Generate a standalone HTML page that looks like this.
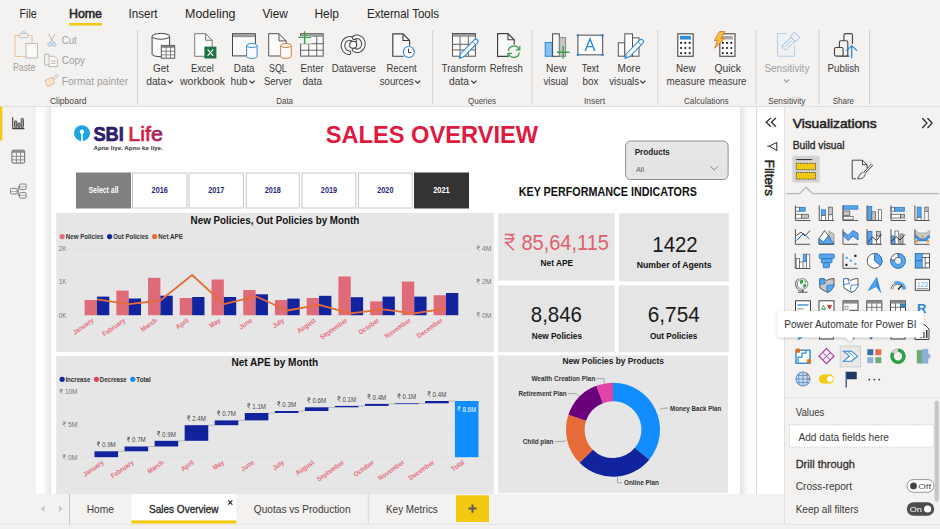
<!DOCTYPE html>
<html><head><meta charset="utf-8"><style>
html,body{margin:0;padding:0;width:940px;height:529px;overflow:hidden;background:#f3f2f1;}
svg{display:block;font-family:"Liberation Sans", sans-serif;}
</style></head><body>
<svg width="940" height="529" viewBox="0 0 940 529">
<rect x="0" y="0" width="940" height="529" fill="#f3f2f1" />
<text x="19.6" y="17.5" font-size="12.5" fill="#252423" textLength="17" lengthAdjust="spacingAndGlyphs" >File</text>
<text x="69" y="17.5" font-size="12.5" fill="#252423" textLength="33" lengthAdjust="spacingAndGlyphs"  stroke="#252423" stroke-width="0.55">Home</text>
<rect x="69" y="23" width="33" height="2.5" fill="#f2c811" />
<text x="128.5" y="17.5" font-size="12.5" fill="#252423" textLength="29" lengthAdjust="spacingAndGlyphs" >Insert</text>
<text x="185.1" y="17.5" font-size="12.5" fill="#252423" textLength="50.4" lengthAdjust="spacingAndGlyphs" >Modeling</text>
<text x="262.4" y="17.5" font-size="12.5" fill="#252423" textLength="25.5" lengthAdjust="spacingAndGlyphs" >View</text>
<text x="314.4" y="17.5" font-size="12.5" fill="#252423" textLength="24.6" lengthAdjust="spacingAndGlyphs" >Help</text>
<text x="367" y="17.5" font-size="12.5" fill="#252423" textLength="72" lengthAdjust="spacingAndGlyphs" >External Tools</text>
<text x="12.9" y="71.1" font-size="10.5" fill="#a19f9d" textLength="22.6" lengthAdjust="spacingAndGlyphs" >Paste</text>
<text x="61.7" y="43.9" font-size="10.5" fill="#a19f9d" textLength="15.1" lengthAdjust="spacingAndGlyphs" >Cut</text>
<text x="61.7" y="64.3" font-size="10.5" fill="#a19f9d" textLength="23.3" lengthAdjust="spacingAndGlyphs" >Copy</text>
<text x="61.7" y="84.7" font-size="10.5" fill="#a19f9d" textLength="66.5" lengthAdjust="spacingAndGlyphs" >Format painter</text>
<text x="49.9" y="103.6" font-size="9" fill="#484644" textLength="36.6" lengthAdjust="spacingAndGlyphs" >Clipboard</text>
<text x="153" y="71.6" font-size="10.5" fill="#3b3a39" textLength="16" lengthAdjust="spacingAndGlyphs" >Get</text>
<text x="146.2" y="84.7" font-size="10.5" fill="#3b3a39" textLength="20" lengthAdjust="spacingAndGlyphs" >data</text>
<text x="191" y="71.6" font-size="10.5" fill="#3b3a39" textLength="22.7" lengthAdjust="spacingAndGlyphs" >Excel</text>
<text x="180" y="84.7" font-size="10.5" fill="#3b3a39" textLength="45" lengthAdjust="spacingAndGlyphs" >workbook</text>
<text x="233.8" y="71.6" font-size="10.5" fill="#3b3a39" textLength="20.8" lengthAdjust="spacingAndGlyphs" >Data</text>
<text x="230.5" y="84.7" font-size="10.5" fill="#3b3a39" textLength="17" lengthAdjust="spacingAndGlyphs" >hub</text>
<text x="269" y="71.6" font-size="10.5" fill="#3b3a39" textLength="17.8" lengthAdjust="spacingAndGlyphs" >SQL</text>
<text x="264" y="84.7" font-size="10.5" fill="#3b3a39" textLength="28" lengthAdjust="spacingAndGlyphs" >Server</text>
<text x="300.6" y="71.6" font-size="10.5" fill="#3b3a39" textLength="23.2" lengthAdjust="spacingAndGlyphs" >Enter</text>
<text x="302.5" y="84.7" font-size="10.5" fill="#3b3a39" textLength="19.5" lengthAdjust="spacingAndGlyphs" >data</text>
<text x="331.8" y="71.6" font-size="10.5" fill="#3b3a39" textLength="44.1" lengthAdjust="spacingAndGlyphs" >Dataverse</text>
<text x="386.4" y="71.6" font-size="10.5" fill="#3b3a39" textLength="30.2" lengthAdjust="spacingAndGlyphs" >Recent</text>
<text x="379.7" y="84.7" font-size="10.5" fill="#3b3a39" textLength="34" lengthAdjust="spacingAndGlyphs" >sources</text>
<text x="276.3" y="103.6" font-size="9" fill="#484644" textLength="16.7" lengthAdjust="spacingAndGlyphs" >Data</text>
<text x="441.5" y="71.6" font-size="10.5" fill="#3b3a39" textLength="44.5" lengthAdjust="spacingAndGlyphs" >Transform</text>
<text x="449" y="84.7" font-size="10.5" fill="#3b3a39" textLength="20" lengthAdjust="spacingAndGlyphs" >data</text>
<text x="489.7" y="71.6" font-size="10.5" fill="#3b3a39" textLength="33.2" lengthAdjust="spacingAndGlyphs" >Refresh</text>
<text x="468" y="103.6" font-size="9" fill="#484644" textLength="28" lengthAdjust="spacingAndGlyphs" >Queries</text>
<text x="545.9" y="71.6" font-size="10.5" fill="#3b3a39" textLength="20.4" lengthAdjust="spacingAndGlyphs" >New</text>
<text x="543.4" y="84.7" font-size="10.5" fill="#3b3a39" textLength="24.9" lengthAdjust="spacingAndGlyphs" >visual</text>
<text x="581.7" y="71.6" font-size="10.5" fill="#3b3a39" textLength="17.2" lengthAdjust="spacingAndGlyphs" >Text</text>
<text x="582.6" y="84.7" font-size="10.5" fill="#3b3a39" textLength="15.9" lengthAdjust="spacingAndGlyphs" >box</text>
<text x="617.6" y="71.6" font-size="10.5" fill="#3b3a39" textLength="23" lengthAdjust="spacingAndGlyphs" >More</text>
<text x="609.2" y="84.7" font-size="10.5" fill="#3b3a39" textLength="30" lengthAdjust="spacingAndGlyphs" >visuals</text>
<text x="584" y="103.6" font-size="9" fill="#484644" textLength="21" lengthAdjust="spacingAndGlyphs" >Insert</text>
<text x="676" y="71.6" font-size="10.5" fill="#3b3a39" textLength="19.7" lengthAdjust="spacingAndGlyphs" >New</text>
<text x="666.6" y="84.7" font-size="10.5" fill="#3b3a39" textLength="38.4" lengthAdjust="spacingAndGlyphs" >measure</text>
<text x="714.5" y="71.6" font-size="10.5" fill="#3b3a39" textLength="26.3" lengthAdjust="spacingAndGlyphs" >Quick</text>
<text x="708.8" y="84.7" font-size="10.5" fill="#3b3a39" textLength="37.7" lengthAdjust="spacingAndGlyphs" >measure</text>
<text x="683.9" y="103.6" font-size="9" fill="#484644" textLength="44.8" lengthAdjust="spacingAndGlyphs" >Calculations</text>
<text x="764.4" y="71.6" font-size="10.5" fill="#a19f9d" textLength="45" lengthAdjust="spacingAndGlyphs" >Sensitivity</text>
<text x="768.2" y="103.6" font-size="9" fill="#484644" textLength="37.3" lengthAdjust="spacingAndGlyphs" >Sensitivity</text>
<text x="827.6" y="71.6" font-size="10.5" fill="#3b3a39" textLength="31.9" lengthAdjust="spacingAndGlyphs" >Publish</text>
<text x="832.7" y="103.6" font-size="9" fill="#484644" textLength="21.3" lengthAdjust="spacingAndGlyphs" >Share</text>
<rect x="137" y="30" width="1" height="74.5" fill="#d2d0ce" />
<rect x="432.3" y="30" width="1" height="74.5" fill="#d2d0ce" />
<rect x="531.5" y="30" width="1" height="74.5" fill="#d2d0ce" />
<rect x="657.4" y="30" width="1" height="74.5" fill="#d2d0ce" />
<rect x="755.5" y="30" width="1" height="74.5" fill="#d2d0ce" />
<rect x="818.4" y="30" width="1" height="74.5" fill="#d2d0ce" />
<rect x="869.1" y="30" width="1" height="74.5" fill="#d2d0ce" />
<path d="M167.5 80.6 l2.6 2.6 l2.6 -2.6" fill="none" stroke="#3b3a39" stroke-width="1.3"/>
<path d="M249.5 80.6 l2.6 2.6 l2.6 -2.6" fill="none" stroke="#3b3a39" stroke-width="1.3"/>
<path d="M415 80.6 l2.6 2.6 l2.6 -2.6" fill="none" stroke="#3b3a39" stroke-width="1.3"/>
<path d="M471.3 80.6 l2.6 2.6 l2.6 -2.6" fill="none" stroke="#3b3a39" stroke-width="1.3"/>
<path d="M640.2 80.6 l2.6 2.6 l2.6 -2.6" fill="none" stroke="#3b3a39" stroke-width="1.3"/>
<path d="M784 79.5 l2.6 2.6 l2.6 -2.6" fill="none" stroke="#a19f9d" stroke-width="1.3"/>
<rect x="0" y="106" width="940" height="1" fill="#e1dfdd" />
<rect x="0" y="107" width="35" height="422" fill="#f3f2f1" />
<rect x="34.5" y="107" width="1" height="387" fill="#e6e6e6" />
<rect x="0" y="106.5" width="2.3" height="34" fill="#f2c811" />
<rect x="35.5" y="107" width="721" height="387" fill="#ffffff" />
<defs><linearGradient id="shl" x1="0" x2="1"><stop offset="0" stop-color="#ffffff"/><stop offset="1" stop-color="#e4e4e4"/></linearGradient><linearGradient id="shr" x1="0" x2="1"><stop offset="0" stop-color="#e4e4e4"/><stop offset="1" stop-color="#fbfbfb"/></linearGradient></defs>
<rect x="43" y="107" width="8.5" height="387" fill="url(#shl)" />
<rect x="740" y="107" width="8" height="387" fill="url(#shr)" />
<rect x="748" y="107" width="8.5" height="387" fill="#fbfbfb" />
<rect x="51.5" y="107" width="688.5" height="387" fill="#ffffff" />
<circle cx="82" cy="133.2" r="8" fill="#1ea3e4"/>
<circle cx="82" cy="131.6" r="2.2" fill="#fff"/>
<rect x="81.2" y="131.6" width="1.6" height="10" fill="#fff" />
<defs><linearGradient id="lifeg" x1="0" x2="1"><stop offset="0" stop-color="#d91b3c"/><stop offset="0.55" stop-color="#d01b45"/><stop offset="1" stop-color="#8e1c63"/></linearGradient></defs>
<text x="93.4" y="140.6" font-size="20" fill="#2b1f6d" font-weight="bold" textLength="30.4" lengthAdjust="spacingAndGlyphs"  stroke="#2b1f6d" stroke-width="0.7">SBI</text>
<text x="128.3" y="140.6" font-size="20" fill="url(#lifeg)" textLength="34.5" lengthAdjust="spacingAndGlyphs"  stroke="url(#lifeg)" stroke-width="0.65">Life</text>
<text x="93.4" y="150.2" font-size="5.6" fill="#333" font-weight="bold" textLength="69.4" lengthAdjust="spacingAndGlyphs" >Apne liye. Apno ke liye.</text>
<text x="325.8" y="143.1" font-size="24.5" fill="#e0193f" font-weight="bold" textLength="212.2" lengthAdjust="spacingAndGlyphs" >SALES OVERVIEW</text>
<rect x="76" y="172.5" width="55" height="36" fill="#808080" />
<text x="103.5" y="193.3" font-size="8.2" fill="#ffffff" font-weight="bold" text-anchor="middle" textLength="30" lengthAdjust="spacingAndGlyphs" >Select all</text>
<rect x="132.5" y="173" width="54.400000000000006" height="35" fill="#ffffff" stroke="#c8c8c8" stroke-width="1"/>
<text x="159.7" y="193.3" font-size="8.2" fill="#1f2b7b" font-weight="bold" text-anchor="middle" textLength="16.2" lengthAdjust="spacingAndGlyphs" >2016</text>
<rect x="189.0" y="173" width="54.5" height="35" fill="#ffffff" stroke="#c8c8c8" stroke-width="1"/>
<text x="216.25" y="193.3" font-size="8.2" fill="#1f2b7b" font-weight="bold" text-anchor="middle" textLength="16.2" lengthAdjust="spacingAndGlyphs" >2017</text>
<rect x="246.3" y="173" width="53.0" height="35" fill="#ffffff" stroke="#c8c8c8" stroke-width="1"/>
<text x="272.8" y="193.3" font-size="8.2" fill="#1f2b7b" font-weight="bold" text-anchor="middle" textLength="16.2" lengthAdjust="spacingAndGlyphs" >2018</text>
<rect x="302.0" y="173" width="53.89999999999998" height="35" fill="#ffffff" stroke="#c8c8c8" stroke-width="1"/>
<text x="328.95" y="193.3" font-size="8.2" fill="#1f2b7b" font-weight="bold" text-anchor="middle" textLength="16.2" lengthAdjust="spacingAndGlyphs" >2019</text>
<rect x="358.5" y="173" width="53.69999999999999" height="35" fill="#ffffff" stroke="#c8c8c8" stroke-width="1"/>
<text x="385.35" y="193.3" font-size="8.2" fill="#1f2b7b" font-weight="bold" text-anchor="middle" textLength="16.2" lengthAdjust="spacingAndGlyphs" >2020</text>
<rect x="414" y="172.5" width="55" height="36" fill="#333333" />
<text x="441.5" y="193.3" font-size="8.2" fill="#ffffff" font-weight="bold" text-anchor="middle" textLength="16.5" lengthAdjust="spacingAndGlyphs" >2021</text>
<rect x="625.6" y="141" width="102.5" height="38.5" fill="#e6e6e6" rx="5" stroke="#8f8f8f" stroke-width="1"/>
<rect x="632.2" y="160.4" width="89.3" height="14" fill="#e4e4e4" stroke="#dedede" stroke-width="0.6"/>
<text x="634.7" y="154.8" font-size="8.6" fill="#252423" font-weight="bold" textLength="35.2" lengthAdjust="spacingAndGlyphs" >Products</text>
<text x="635.9" y="172" font-size="7.5" fill="#605e5c" textLength="8.2" lengthAdjust="spacingAndGlyphs" >All</text>
<path d="M710.5 166.3 l3.7 3.8 l3.7 -3.8" fill="none" stroke="#777" stroke-width="0.9"/>
<text x="518.7" y="195.9" font-size="12.3" fill="#111" font-weight="bold" textLength="178.2" lengthAdjust="spacingAndGlyphs" >KEY PERFORMANCE INDICATORS</text>
<rect x="56.2" y="212.8" width="437.6" height="139.4" fill="#e6e6e6" />
<text x="190.6" y="223.7" font-size="10.3" fill="#111" font-weight="bold" textLength="168.7" lengthAdjust="spacingAndGlyphs" >New Policies, Out Policies by Month</text>
<circle cx="62.1" cy="236.6" r="2.6" fill="#e06b78"/>
<text x="65.8" y="239.0" font-size="7" fill="#333" font-weight="bold" textLength="37.7" lengthAdjust="spacingAndGlyphs" >New Policies</text>
<circle cx="109.6" cy="236.6" r="2.6" fill="#12239e"/>
<text x="113.3" y="239.0" font-size="7" fill="#333" font-weight="bold" textLength="35.10000000000001" lengthAdjust="spacingAndGlyphs" >Out Policies</text>
<circle cx="154.6" cy="236.6" r="2.6" fill="#e66c37"/>
<text x="158.3" y="239.0" font-size="7" fill="#333" font-weight="bold" textLength="24.69999999999999" lengthAdjust="spacingAndGlyphs" >Net APE</text>
<text x="58.8" y="251.1" font-size="7" fill="#777" textLength="7.5" lengthAdjust="spacingAndGlyphs" >2K</text>
<text x="58.8" y="284.1" font-size="7" fill="#777" textLength="7.5" lengthAdjust="spacingAndGlyphs" >1K</text>
<text x="58.8" y="317.5" font-size="7" fill="#777" textLength="7.7" lengthAdjust="spacingAndGlyphs" >0K</text>
<path d="M476.70 246.14 H479.68 M476.70 247.38 H479.68 M477.65 246.14 C479.68 246.14 479.68 248.52 477.65 248.52 H476.70 M477.06 248.52 L479.44 250.90" fill="none" stroke="#777" stroke-width="0.63"/>
<text x="482.0" y="250.9" font-size="7" fill="#777" textLength="9.2" lengthAdjust="spacingAndGlyphs" >4M</text>
<path d="M476.70 279.34 H479.68 M476.70 280.58 H479.68 M477.65 279.34 C479.68 279.34 479.68 281.72 477.65 281.72 H476.70 M477.06 281.72 L479.44 284.10" fill="none" stroke="#777" stroke-width="0.63"/>
<text x="482.0" y="284.1" font-size="7" fill="#777" textLength="9.2" lengthAdjust="spacingAndGlyphs" >2M</text>
<path d="M476.70 312.74 H479.68 M476.70 313.98 H479.68 M477.65 312.74 C479.68 312.74 479.68 315.12 477.65 315.12 H476.70 M477.06 315.12 L479.44 317.50" fill="none" stroke="#777" stroke-width="0.63"/>
<text x="482.0" y="317.5" font-size="7" fill="#777" textLength="9.2" lengthAdjust="spacingAndGlyphs" >0M</text>
<line x1="68" y1="248.6" x2="472" y2="248.6" stroke="#cdcdcd" stroke-width="0.8" stroke-dasharray="1 3"/>
<line x1="68" y1="281.8" x2="472" y2="281.8" stroke="#cdcdcd" stroke-width="0.8" stroke-dasharray="1 3"/>
<line x1="68" y1="315.2" x2="472" y2="315.2" stroke="#cdcdcd" stroke-width="0.8" stroke-dasharray="1 3"/>
<rect x="84.6" y="300" width="12.35" height="15.2" fill="#e06b78" />
<rect x="96.95" y="296.6" width="12.35" height="18.6" fill="#12239e" />
<rect x="116.33" y="290.6" width="12.35" height="24.6" fill="#e06b78" />
<rect x="128.68" y="298.5" width="12.35" height="16.7" fill="#12239e" />
<rect x="148.05" y="277.8" width="12.35" height="37.4" fill="#e06b78" />
<rect x="160.4" y="295.7" width="12.35" height="19.5" fill="#12239e" />
<rect x="179.78" y="298" width="12.35" height="17.2" fill="#e06b78" />
<rect x="192.13" y="297" width="12.35" height="18.2" fill="#12239e" />
<rect x="211.51" y="279.5" width="12.35" height="35.7" fill="#e06b78" />
<rect x="223.86" y="297" width="12.35" height="18.2" fill="#12239e" />
<rect x="243.24" y="290" width="12.35" height="25.2" fill="#e06b78" />
<rect x="255.59" y="294.3" width="12.35" height="20.9" fill="#12239e" />
<rect x="274.96" y="300" width="12.35" height="15.2" fill="#e06b78" />
<rect x="287.31" y="298.6" width="12.35" height="16.6" fill="#12239e" />
<rect x="306.69" y="298" width="12.35" height="17.2" fill="#e06b78" />
<rect x="319.04" y="295.8" width="12.35" height="19.4" fill="#12239e" />
<rect x="338.42" y="276.5" width="12.35" height="38.7" fill="#e06b78" />
<rect x="350.77" y="297.2" width="12.35" height="18.0" fill="#12239e" />
<rect x="370.15" y="301.4" width="12.35" height="13.8" fill="#e06b78" />
<rect x="382.5" y="296.6" width="12.35" height="18.6" fill="#12239e" />
<rect x="401.87" y="281.6" width="12.35" height="33.6" fill="#e06b78" />
<rect x="414.22" y="296.6" width="12.35" height="18.6" fill="#12239e" />
<rect x="433.6" y="295.2" width="12.35" height="20.0" fill="#e06b78" />
<rect x="445.95" y="293" width="12.35" height="22.2" fill="#12239e" />
<polyline points="96.95,299.4 128.68,304.2 160.4,300.5 192.13,275 223.86,304.2 255.59,296.3 287.31,310.5 319.04,304.8 350.77,313.3 382.5,309.4 414.22,313.3 445.95,308.5" fill="none" stroke="#e66c37" stroke-width="1.8" stroke-linejoin="round"/>
<text x="94.15" y="321.5" font-size="6.9" font-weight="bold" fill="#e4707c" text-anchor="end" textLength="23.6" lengthAdjust="spacingAndGlyphs" transform="rotate(-35 94.15 321.5)">January</text>
<text x="125.88" y="321.5" font-size="6.9" font-weight="bold" fill="#e4707c" text-anchor="end" textLength="26.3" lengthAdjust="spacingAndGlyphs" transform="rotate(-35 125.88 321.5)">February</text>
<text x="157.60" y="321.5" font-size="6.9" font-weight="bold" fill="#e4707c" text-anchor="end" textLength="18.1" lengthAdjust="spacingAndGlyphs" transform="rotate(-35 157.60 321.5)">March</text>
<text x="189.33" y="321.5" font-size="6.9" font-weight="bold" fill="#e4707c" text-anchor="end" textLength="14.0" lengthAdjust="spacingAndGlyphs" transform="rotate(-35 189.33 321.5)">April</text>
<text x="221.06" y="321.5" font-size="6.9" font-weight="bold" fill="#e4707c" text-anchor="end" textLength="11.9" lengthAdjust="spacingAndGlyphs" transform="rotate(-35 221.06 321.5)">May</text>
<text x="252.79" y="321.5" font-size="6.9" font-weight="bold" fill="#e4707c" text-anchor="end" textLength="14.3" lengthAdjust="spacingAndGlyphs" transform="rotate(-35 252.79 321.5)">June</text>
<text x="284.51" y="321.5" font-size="6.9" font-weight="bold" fill="#e4707c" text-anchor="end" textLength="12.3" lengthAdjust="spacingAndGlyphs" transform="rotate(-35 284.51 321.5)">July</text>
<text x="316.24" y="321.5" font-size="6.9" font-weight="bold" fill="#e4707c" text-anchor="end" textLength="21.1" lengthAdjust="spacingAndGlyphs" transform="rotate(-35 316.24 321.5)">August</text>
<text x="347.97" y="321.5" font-size="6.9" font-weight="bold" fill="#e4707c" text-anchor="end" textLength="31.7" lengthAdjust="spacingAndGlyphs" transform="rotate(-35 347.97 321.5)">September</text>
<text x="379.70" y="321.5" font-size="6.9" font-weight="bold" fill="#e4707c" text-anchor="end" textLength="23.5" lengthAdjust="spacingAndGlyphs" transform="rotate(-35 379.70 321.5)">October</text>
<text x="411.42" y="321.5" font-size="6.9" font-weight="bold" fill="#e4707c" text-anchor="end" textLength="30.0" lengthAdjust="spacingAndGlyphs" transform="rotate(-35 411.42 321.5)">November</text>
<text x="443.15" y="321.5" font-size="6.9" font-weight="bold" fill="#e4707c" text-anchor="end" textLength="29.7" lengthAdjust="spacingAndGlyphs" transform="rotate(-35 443.15 321.5)">December</text>
<rect x="498" y="213.2" width="116.7" height="67.3" fill="#e5e5e5" />
<rect x="619" y="213.2" width="109.8" height="68.3" fill="#e5e5e5" />
<rect x="498" y="285.3" width="116.7" height="66.9" fill="#e5e5e5" />
<rect x="618.5" y="285.3" width="110.3" height="66.9" fill="#e5e5e5" />
<path d="M504.70 234.60 H514.60 M504.70 238.66 H514.60 M507.87 234.60 C514.60 234.60 514.60 242.40 507.87 242.40 H504.70 M505.89 242.40 L513.81 250.20" fill="none" stroke="#e0606e" stroke-width="1.50"/>
<text x="0" y="0" font-size="18.8" fill="#e0606e" textLength="87.6" lengthAdjust="spacingAndGlyphs" transform="translate(521.4 250.4) scale(1 1.17)">85,64,115</text>
<text x="540.6" y="266.2" font-size="8.8" fill="#111" font-weight="bold" textLength="32.6" lengthAdjust="spacingAndGlyphs" >Net APE</text>
<text x="0" y="0" font-size="18.8" fill="#1a1a1a" textLength="45.4" lengthAdjust="spacingAndGlyphs" transform="translate(652.3 252) scale(1 1.17)">1422</text>
<text x="636.8" y="267.6" font-size="8.8" fill="#111" font-weight="bold" textLength="74.8" lengthAdjust="spacingAndGlyphs" >Number of Agents</text>
<text x="0" y="0" font-size="18.8" fill="#1a1a1a" textLength="51.2" lengthAdjust="spacingAndGlyphs" transform="translate(530.8 322.4) scale(1 1.17)">8,846</text>
<text x="531.7" y="338.9" font-size="8.8" fill="#111" font-weight="bold" textLength="50.3" lengthAdjust="spacingAndGlyphs" >New Policies</text>
<text x="0" y="0" font-size="18.8" fill="#1a1a1a" textLength="51.9" lengthAdjust="spacingAndGlyphs" transform="translate(647.8 322.4) scale(1 1.17)">6,754</text>
<text x="650" y="338.9" font-size="8.8" fill="#111" font-weight="bold" textLength="47.3" lengthAdjust="spacingAndGlyphs" >Out Policies</text>
<rect x="56.2" y="355.9" width="437.6" height="138.1" fill="#e6e6e6" />
<text x="231.5" y="365.9" font-size="10.3" fill="#111" font-weight="bold" textLength="86.7" lengthAdjust="spacingAndGlyphs" >Net APE by Month</text>
<circle cx="62.1" cy="379.3" r="2.6" fill="#12239e"/>
<text x="65.4" y="381.7" font-size="7" fill="#333" font-weight="bold" textLength="25.0" lengthAdjust="spacingAndGlyphs" >Increase</text>
<circle cx="96.5" cy="379.3" r="2.6" fill="#e0435a"/>
<text x="99.8" y="381.7" font-size="7" fill="#333" font-weight="bold" textLength="26.900000000000006" lengthAdjust="spacingAndGlyphs" >Decrease</text>
<circle cx="132.79999999999998" cy="379.3" r="2.6" fill="#118dff"/>
<text x="136.3" y="381.7" font-size="7" fill="#333" font-weight="bold" textLength="14.5" lengthAdjust="spacingAndGlyphs" >Total</text>
<path d="M59.69 389.44 H62.61 M59.69 390.68 H62.61 M60.63 389.44 C62.61 389.44 62.61 391.82 60.63 391.82 H59.69 M60.04 391.82 L62.38 394.20" fill="none" stroke="#777" stroke-width="0.63"/>
<text x="64.88" y="394.2" font-size="7" fill="#777" textLength="12.62" lengthAdjust="spacingAndGlyphs" >10M</text>
<path d="M62.70 422.04 H65.74 M62.70 423.28 H65.74 M63.68 422.04 C65.74 422.04 65.74 424.42 63.68 424.42 H62.70 M63.07 424.42 L65.50 426.80" fill="none" stroke="#777" stroke-width="0.63"/>
<text x="68.11" y="426.8" font-size="7" fill="#777" textLength="9.39" lengthAdjust="spacingAndGlyphs" >5M</text>
<path d="M62.70 454.94 H65.74 M62.70 456.18 H65.74 M63.68 454.94 C65.74 454.94 65.74 457.32 63.68 457.32 H62.70 M63.07 457.32 L65.50 459.70" fill="none" stroke="#777" stroke-width="0.63"/>
<text x="68.11" y="459.7" font-size="7" fill="#777" textLength="9.39" lengthAdjust="spacingAndGlyphs" >0M</text>
<line x1="80" y1="391.7" x2="491" y2="391.7" stroke="#cdcdcd" stroke-width="0.8" stroke-dasharray="1 3"/>
<line x1="80" y1="424.3" x2="491" y2="424.3" stroke="#cdcdcd" stroke-width="0.8" stroke-dasharray="1 3"/>
<line x1="80" y1="457.2" x2="491" y2="457.2" stroke="#cdcdcd" stroke-width="0.8" stroke-dasharray="1 3"/>
<line x1="118.10" y1="451.3" x2="124.55" y2="451.3" stroke="#999" stroke-width="0.6"/>
<rect x="94.5" y="451.3" width="23.6" height="5.9" fill="#12239e" />
<path d="M97.08 442.04 H99.86 M97.08 443.33 H99.86 M97.97 442.04 C99.86 442.04 99.86 444.52 97.97 444.52 H97.08 M97.42 444.52 L99.63 447.00" fill="none" stroke="#4a4a4a" stroke-width="0.66"/>
<text x="102.01" y="447.0" font-size="7.3" fill="#4a4a4a" textLength="13.69" lengthAdjust="spacingAndGlyphs" >0.9M</text>
<line x1="148.15" y1="446.5" x2="154.61" y2="446.5" stroke="#999" stroke-width="0.6"/>
<rect x="124.55" y="446.5" width="23.6" height="4.8" fill="#12239e" />
<path d="M127.13 437.24 H129.91 M127.13 438.53 H129.91 M128.02 437.24 C129.91 437.24 129.91 439.72 128.02 439.72 H127.13 M127.47 439.72 L129.68 442.20" fill="none" stroke="#4a4a4a" stroke-width="0.66"/>
<text x="132.06" y="442.2" font-size="7.3" fill="#4a4a4a" textLength="13.69" lengthAdjust="spacingAndGlyphs" >0.7M</text>
<line x1="178.21" y1="440.8" x2="184.66" y2="440.8" stroke="#999" stroke-width="0.6"/>
<rect x="154.61" y="440.8" width="23.6" height="5.7" fill="#12239e" />
<path d="M157.19 431.54 H159.97 M157.19 432.83 H159.97 M158.08 431.54 C159.97 431.54 159.97 434.02 158.08 434.02 H157.19 M157.53 434.02 L159.74 436.50" fill="none" stroke="#4a4a4a" stroke-width="0.66"/>
<text x="162.12" y="436.5" font-size="7.3" fill="#4a4a4a" textLength="13.69" lengthAdjust="spacingAndGlyphs" >0.9M</text>
<line x1="208.26" y1="425.2" x2="214.72" y2="425.2" stroke="#999" stroke-width="0.6"/>
<rect x="184.66" y="425.2" width="23.6" height="15.6" fill="#12239e" />
<path d="M187.24 415.94 H190.02 M187.24 417.23 H190.02 M188.13 415.94 C190.02 415.94 190.02 418.42 188.13 418.42 H187.24 M187.58 418.42 L189.79 420.90" fill="none" stroke="#4a4a4a" stroke-width="0.66"/>
<text x="192.17" y="420.9" font-size="7.3" fill="#4a4a4a" textLength="13.69" lengthAdjust="spacingAndGlyphs" >2.4M</text>
<line x1="238.32" y1="420.4" x2="244.77" y2="420.4" stroke="#999" stroke-width="0.6"/>
<rect x="214.72" y="420.4" width="23.6" height="4.8" fill="#12239e" />
<path d="M217.30 411.14 H220.08 M217.30 412.43 H220.08 M218.19 411.14 C220.08 411.14 220.08 413.62 218.19 413.62 H217.30 M217.64 413.62 L219.85 416.10" fill="none" stroke="#4a4a4a" stroke-width="0.66"/>
<text x="222.23" y="416.09999999999997" font-size="7.3" fill="#4a4a4a" textLength="13.69" lengthAdjust="spacingAndGlyphs" >0.7M</text>
<line x1="268.37" y1="413" x2="274.83" y2="413" stroke="#999" stroke-width="0.6"/>
<rect x="244.77" y="413" width="23.6" height="7.4" fill="#12239e" />
<path d="M247.35 403.74 H250.13 M247.35 405.03 H250.13 M248.24 403.74 C250.13 403.74 250.13 406.22 248.24 406.22 H247.35 M247.69 406.22 L249.90 408.70" fill="none" stroke="#4a4a4a" stroke-width="0.66"/>
<text x="252.28" y="408.7" font-size="7.3" fill="#4a4a4a" textLength="13.69" lengthAdjust="spacingAndGlyphs" >1.1M</text>
<line x1="298.43" y1="411" x2="304.88" y2="411" stroke="#999" stroke-width="0.6"/>
<rect x="274.83" y="411" width="23.6" height="2" fill="#12239e" />
<path d="M277.41 401.74 H280.19 M277.41 403.03 H280.19 M278.30 401.74 C280.19 401.74 280.19 404.22 278.30 404.22 H277.41 M277.75 404.22 L279.96 406.70" fill="none" stroke="#4a4a4a" stroke-width="0.66"/>
<text x="282.34" y="406.7" font-size="7.3" fill="#4a4a4a" textLength="13.69" lengthAdjust="spacingAndGlyphs" >0.3M</text>
<line x1="328.48" y1="407.3" x2="334.94" y2="407.3" stroke="#999" stroke-width="0.6"/>
<rect x="304.88" y="407.3" width="23.6" height="3.7" fill="#12239e" />
<path d="M307.46 398.04 H310.24 M307.46 399.33 H310.24 M308.35 398.04 C310.24 398.04 310.24 400.52 308.35 400.52 H307.46 M307.80 400.52 L310.01 403.00" fill="none" stroke="#4a4a4a" stroke-width="0.66"/>
<text x="312.39" y="403.0" font-size="7.3" fill="#4a4a4a" textLength="13.69" lengthAdjust="spacingAndGlyphs" >0.6M</text>
<line x1="358.54" y1="405.9" x2="364.99" y2="405.9" stroke="#999" stroke-width="0.6"/>
<rect x="334.94" y="405.9" width="23.6" height="1.4" fill="#12239e" />
<path d="M337.52 396.64 H340.30 M337.52 397.93 H340.30 M338.41 396.64 C340.30 396.64 340.30 399.12 338.41 399.12 H337.52 M337.86 399.12 L340.07 401.60" fill="none" stroke="#4a4a4a" stroke-width="0.66"/>
<text x="342.45" y="401.59999999999997" font-size="7.3" fill="#4a4a4a" textLength="13.69" lengthAdjust="spacingAndGlyphs" >0.1M</text>
<line x1="388.59" y1="403.9" x2="395.05" y2="403.9" stroke="#999" stroke-width="0.6"/>
<rect x="364.99" y="403.9" width="23.6" height="2.0" fill="#12239e" />
<path d="M367.57 394.64 H370.35 M367.57 395.93 H370.35 M368.46 394.64 C370.35 394.64 370.35 397.12 368.46 397.12 H367.57 M367.91 397.12 L370.12 399.60" fill="none" stroke="#4a4a4a" stroke-width="0.66"/>
<text x="372.5" y="399.59999999999997" font-size="7.3" fill="#4a4a4a" textLength="13.69" lengthAdjust="spacingAndGlyphs" >0.4M</text>
<line x1="418.65" y1="403.3" x2="425.10" y2="403.3" stroke="#999" stroke-width="0.6"/>
<rect x="395.05" y="403.3" width="23.6" height="0.8" fill="#12239e" />
<path d="M397.63 394.04 H400.41 M397.63 395.33 H400.41 M398.52 394.04 C400.41 394.04 400.41 396.52 398.52 396.52 H397.63 M397.97 396.52 L400.18 399.00" fill="none" stroke="#4a4a4a" stroke-width="0.66"/>
<text x="402.56" y="399.0" font-size="7.3" fill="#4a4a4a" textLength="13.69" lengthAdjust="spacingAndGlyphs" >0.1M</text>
<rect x="425.1" y="401" width="23.6" height="2.3" fill="#12239e" />
<path d="M427.68 391.74 H430.46 M427.68 393.03 H430.46 M428.57 391.74 C430.46 391.74 430.46 394.22 428.57 394.22 H427.68 M428.02 394.22 L430.23 396.70" fill="none" stroke="#4a4a4a" stroke-width="0.66"/>
<text x="432.61" y="396.7" font-size="7.3" fill="#4a4a4a" textLength="13.69" lengthAdjust="spacingAndGlyphs" >0.4M</text>
<line x1="448.70" y1="401" x2="454.9" y2="401" stroke="#999" stroke-width="0.6"/>
<rect x="454.9" y="401" width="23.6" height="56.2" fill="#118dff" />
<path d="M457.63 406.74 H460.36 M457.63 407.98 H460.36 M458.50 406.74 C460.36 406.74 460.36 409.12 458.50 409.12 H457.63 M457.96 409.12 L460.14 411.50" fill="none" stroke="#fff" stroke-width="0.63"/>
<text x="462.48" y="411.5" font-size="7" fill="#fff" textLength="13.47" lengthAdjust="spacingAndGlyphs" >8.6M</text>
<text x="104.30" y="463.5" font-size="6.9" font-weight="bold" fill="#e4707c" text-anchor="end" textLength="23.6" lengthAdjust="spacingAndGlyphs" transform="rotate(-35 104.30 463.5)">January</text>
<text x="134.35" y="463.5" font-size="6.9" font-weight="bold" fill="#e4707c" text-anchor="end" textLength="26.3" lengthAdjust="spacingAndGlyphs" transform="rotate(-35 134.35 463.5)">February</text>
<text x="164.41" y="463.5" font-size="6.9" font-weight="bold" fill="#e4707c" text-anchor="end" textLength="18.1" lengthAdjust="spacingAndGlyphs" transform="rotate(-35 164.41 463.5)">March</text>
<text x="194.46" y="463.5" font-size="6.9" font-weight="bold" fill="#e4707c" text-anchor="end" textLength="14.0" lengthAdjust="spacingAndGlyphs" transform="rotate(-35 194.46 463.5)">April</text>
<text x="224.52" y="463.5" font-size="6.9" font-weight="bold" fill="#e4707c" text-anchor="end" textLength="11.9" lengthAdjust="spacingAndGlyphs" transform="rotate(-35 224.52 463.5)">May</text>
<text x="254.57" y="463.5" font-size="6.9" font-weight="bold" fill="#e4707c" text-anchor="end" textLength="14.3" lengthAdjust="spacingAndGlyphs" transform="rotate(-35 254.57 463.5)">June</text>
<text x="284.63" y="463.5" font-size="6.9" font-weight="bold" fill="#e4707c" text-anchor="end" textLength="12.3" lengthAdjust="spacingAndGlyphs" transform="rotate(-35 284.63 463.5)">July</text>
<text x="314.68" y="463.5" font-size="6.9" font-weight="bold" fill="#e4707c" text-anchor="end" textLength="21.1" lengthAdjust="spacingAndGlyphs" transform="rotate(-35 314.68 463.5)">August</text>
<text x="344.74" y="463.5" font-size="6.9" font-weight="bold" fill="#e4707c" text-anchor="end" textLength="31.7" lengthAdjust="spacingAndGlyphs" transform="rotate(-35 344.74 463.5)">September</text>
<text x="374.79" y="463.5" font-size="6.9" font-weight="bold" fill="#e4707c" text-anchor="end" textLength="23.5" lengthAdjust="spacingAndGlyphs" transform="rotate(-35 374.79 463.5)">October</text>
<text x="404.85" y="463.5" font-size="6.9" font-weight="bold" fill="#e4707c" text-anchor="end" textLength="30.0" lengthAdjust="spacingAndGlyphs" transform="rotate(-35 404.85 463.5)">November</text>
<text x="434.90" y="463.5" font-size="6.9" font-weight="bold" fill="#e4707c" text-anchor="end" textLength="29.7" lengthAdjust="spacingAndGlyphs" transform="rotate(-35 434.90 463.5)">December</text>
<text x="464.95" y="463.5" font-size="6.9" font-weight="bold" fill="#e4707c" text-anchor="end" textLength="14.2" lengthAdjust="spacingAndGlyphs" transform="rotate(-35 464.95 463.5)">Total</text>
<rect x="498" y="355.3" width="230.1" height="137.7" fill="#e6e6e6" />
<text x="562.4" y="364.3" font-size="9.3" fill="#222" font-weight="bold" textLength="101.4" lengthAdjust="spacingAndGlyphs" >New Policies by Products</text>
<path d="M613.00 382.70 A47 47 0 0 1 649.21 459.66 L634.88 447.80 A28.4 28.4 0 0 0 613.00 401.30Z" fill="#118dff"/>
<path d="M649.21 459.66 A47 47 0 0 1 579.59 462.76 L592.81 449.68 A28.4 28.4 0 0 0 634.88 447.80Z" fill="#12239e"/>
<path d="M579.59 462.76 A47 47 0 0 1 568.40 414.86 L586.05 420.74 A28.4 28.4 0 0 0 592.81 449.68Z" fill="#e66c37"/>
<path d="M568.40 414.86 A47 47 0 0 1 596.39 385.73 L602.96 403.13 A28.4 28.4 0 0 0 586.05 420.74Z" fill="#6b007b"/>
<path d="M596.39 385.73 A47 47 0 0 1 613.00 382.70 L613.00 401.30 A28.4 28.4 0 0 0 602.96 403.13Z" fill="#e044a7"/>
<path d="M596.5 378.6 H604 V383" fill="none" stroke="#888" stroke-width="0.7"/>
<path d="M568 393.6 H576 L579.5 396.5" fill="none" stroke="#888" stroke-width="0.7"/>
<path d="M660 409.5 L663 408.2 H668" fill="none" stroke="#888" stroke-width="0.7"/>
<path d="M555 441.6 H562 L566 440.5" fill="none" stroke="#888" stroke-width="0.7"/>
<path d="M617.5 477.5 V482.7 H622" fill="none" stroke="#888" stroke-width="0.7"/>
<text x="531.4" y="381" font-size="7" fill="#333" font-weight="bold" textLength="63.9" lengthAdjust="spacingAndGlyphs" >Wealth Creation Plan</text>
<text x="518.5" y="396" font-size="7" fill="#333" font-weight="bold" textLength="48" lengthAdjust="spacingAndGlyphs" >Retirement Plan</text>
<text x="670" y="410.6" font-size="7" fill="#333" font-weight="bold" textLength="51.3" lengthAdjust="spacingAndGlyphs" >Money Back Plan</text>
<text x="522.7" y="444" font-size="7" fill="#333" font-weight="bold" textLength="30.6" lengthAdjust="spacingAndGlyphs" >Child plan</text>
<text x="624" y="485.1" font-size="7" fill="#333" font-weight="bold" textLength="35" lengthAdjust="spacingAndGlyphs" >Online Plan</text>
<rect x="35" y="494" width="750" height="30" fill="#f3f2f1" />
<rect x="0" y="524" width="940" height="5" fill="#f2f1f0" />
<rect x="0" y="523.8" width="940" height="0.9" fill="#e3e2e1" />
<path d="M44.5 505.5 L40.8 508.8 L44.5 512.1Z" fill="#c8c6c4"/>
<path d="M59 505.5 L62.7 508.8 L59 512.1Z" fill="#c8c6c4"/>
<rect x="69" y="494" width="1" height="30" fill="#c8c6c4" />
<text x="86.7" y="512.9" font-size="10.2" fill="#3b3a39" textLength="27.2" lengthAdjust="spacingAndGlyphs" >Home</text>
<rect x="131.3" y="494" width="105" height="30" fill="#ffffff" />
<rect x="131.3" y="520.4" width="105" height="3.2" fill="#f2c811" />
<text x="149" y="513" font-size="10.3" fill="#252423" textLength="69.6" lengthAdjust="spacingAndGlyphs"  stroke="#252423" stroke-width="0.3">Sales Overview</text>
<path d="M228.2 500.3 L232.4 504.6 M232.4 500.3 L228.2 504.6" stroke="#252423" stroke-width="1.15"/>
<text x="253.8" y="512.9" font-size="10.2" fill="#3b3a39" textLength="96.8" lengthAdjust="spacingAndGlyphs" >Quotas vs Production</text>
<rect x="367.8" y="494" width="0.8" height="30" fill="#d2d0ce" />
<text x="386" y="512.9" font-size="10.2" fill="#3b3a39" textLength="51.8" lengthAdjust="spacingAndGlyphs" >Key Metrics</text>
<rect x="456" y="495.3" width="33" height="26.7" fill="#f2c811" />
<path d="M472.5 504.5 V512.7 M468.4 508.6 H476.6" stroke="#5a5a5a" stroke-width="2"/>
<rect x="756.2" y="107" width="1" height="387" fill="#d4d4d4" />
<rect x="757.2" y="107" width="27" height="387" fill="#ffffff" />
<rect x="784" y="107" width="1" height="417" fill="#e1dfdd" />
<path d="M770.8 117.9 L766.2 122.2 L770.8 126.5 M776 117.9 L771.4 122.2 L776 126.5" fill="none" stroke="#252423" stroke-width="1.25"/>
<path d="M776.8 142.3 L769.5 146.2 L776.8 150.6 Z M769.5 146.2 H767.3" fill="none" stroke="#252423" stroke-width="1"/>
<text x="0" y="0" font-size="13" fill="#252423" stroke="#252423" stroke-width="0.5" transform="translate(765.3 159.8) rotate(90)" textLength="36" lengthAdjust="spacingAndGlyphs">Filters</text>
<rect x="785" y="107" width="155" height="417" fill="#f3f2f1" />
<text x="792.7" y="128" font-size="13.2" fill="#252423" textLength="84" lengthAdjust="spacingAndGlyphs"  stroke="#252423" stroke-width="0.55">Visualizations</text>
<path d="M922.3 118.2 L926.9 123.1 L922.3 128 M927.5 118.2 L932.1 123.1 L927.5 128" fill="none" stroke="#252423" stroke-width="1.25"/>
<text x="792.7" y="149" font-size="10" fill="#252423" textLength="51.8" lengthAdjust="spacingAndGlyphs"  stroke="#252423" stroke-width="0.3">Build visual</text>
<rect x="792.4" y="155.8" width="27.3" height="26.8" fill="#d6d4d2" rx="1.5"/>
<rect x="796.2" y="159.1" width="16" height="1" fill="#2a2a2a" />
<rect x="796.3" y="163.3" width="19.2" height="6.4" fill="#f2c811" stroke="#2a2a2a" stroke-width="0.8" stroke-dasharray="1 0.8"/>
<rect x="796.3" y="172.5" width="19.2" height="6.6" fill="#f2c811" stroke="#2a2a2a" stroke-width="0.8" stroke-dasharray="1 0.8"/>
<path d="M856 178.8 H852.2 V160.2 H862.5 L867 164.7 V168 M862.5 160.2 V164.7 H867" fill="none" stroke="#333" stroke-width="0.9"/>
<path d="M871.8 163.5 L863.6 172.5 M873 165 L864.8 173.7 M862.6 172.3 C859.5 173.3 859.2 176.8 857.5 178.8 C861 179.3 864.7 177.5 865.3 174.2" fill="none" stroke="#333" stroke-width="0.9"/>
<path d="M786 193.7 H799.4 L806 187.4 L812.8 193.7 H939" fill="none" stroke="#b9b7b5" stroke-width="1.3"/>
<rect x="785" y="397.5" width="155" height="1" fill="#e1dfdd" />
<text x="795.7" y="416" font-size="10.5" fill="#3b3a39" textLength="28.7" lengthAdjust="spacingAndGlyphs" >Values</text>
<rect x="789.4" y="424.8" width="144.3" height="22.2" fill="#ffffff" stroke="#b3b0ad" stroke-width="0.7" stroke-dasharray="1 1.5"/>
<text x="798.4" y="440.5" font-size="10.5" fill="#3b3a39" textLength="90.6" lengthAdjust="spacingAndGlyphs" >Add data fields here</text>
<text x="795.7" y="467.6" font-size="10.5" fill="#323130" textLength="59.2" lengthAdjust="spacingAndGlyphs"  stroke="#323130" stroke-width="0.3">Drill through</text>
<text x="795.7" y="489.6" font-size="10.5" fill="#3b3a39" textLength="56.3" lengthAdjust="spacingAndGlyphs" >Cross-report</text>
<text x="795.7" y="512.5" font-size="10.5" fill="#3b3a39" textLength="62.8" lengthAdjust="spacingAndGlyphs" >Keep all filters</text>
<rect x="907" y="479.6" width="27" height="12.6" fill="#ffffff" rx="6.3" stroke="#7a7a7a" stroke-width="0.8"/>
<circle cx="913.5" cy="485.9" r="3.4" fill="#444"/>
<text x="918.3" y="489" font-size="8" fill="#555" textLength="12.8" lengthAdjust="spacingAndGlyphs" >Off</text>
<rect x="906.8" y="502.3" width="27.4" height="13.4" fill="#4d4d4d" rx="6.7"/>
<circle cx="927.6" cy="509" r="3.6" fill="#fff"/>
<text x="909.8" y="512.2" font-size="8" fill="#fff" textLength="12" lengthAdjust="spacingAndGlyphs" >On</text>
<rect x="934.6" y="400.5" width="4.2" height="101.2" fill="#c8c6c4" rx="2.1"/>
<path d="M15 35.5 H19.5 M28 35.5 H32 V44 M15 35.5 V56.5 H26" fill="none" stroke="#f2c89a" stroke-width="1.2" />
<rect x="19.5" y="33.6" width="8.5" height="4" fill="#f3f2f1" rx="1" stroke="#c2c0be" stroke-width="1"/>
<path d="M21.8 33.6 A2 2 0 0 1 25.8 33.6" fill="none" stroke="#c2c0be" stroke-width="1"/>
<rect x="26" y="43.6" width="11.5" height="14.3" fill="#faf9f8" stroke="#bebbb8" stroke-width="1"/>
<path d="M48.5 34 L53.5 43 M55 34 L50 43" fill="none" stroke="#b3b0ad" stroke-width="0.9" />
<circle cx="49.5" cy="44.5" r="1.7" fill="none" stroke="#8fb6e0" stroke-width="0.9"/><circle cx="54.2" cy="44.5" r="1.7" fill="none" stroke="#8fb6e0" stroke-width="0.9"/>
<path d="M49 56 V54.2 H44.6 V65 H49" fill="none" stroke="#b3b0ad" stroke-width="0.9" />
<path d="M49 56.3 H54.3 L57.4 59.4 V66.6 H49 Z M51 61 H55.5 M51 63.3 H55.5" fill="#faf9f8" stroke="#b3b0ad" stroke-width="0.9" />
<path d="M45 80.5 L52 77 L54.5 83.5 L47.5 86.5 Z" fill="#f8e2cd" stroke="#eab58a" stroke-width="0.9" />
<path d="M52.5 78.5 L56.5 74.5 L58 76 L54 80" fill="none" stroke="#b3b0ad" stroke-width="0.9" />
<path d="M152.1 36.3 V54.2 C152.1 57.5 169.6 57.5 169.6 54.2 V36.3" fill="#fbfbfb" stroke="#444" stroke-width="1" />
<ellipse cx="160.85" cy="36.3" rx="8.75" ry="2.9" fill="#fbfbfb" stroke="#444" stroke-width="1"/>
<rect x="161.3" y="45.4" width="13.4" height="12.8" fill="#fafafa" stroke="#555" stroke-width="1"/>
<rect x="161.3" y="45.4" width="13.4" height="2.3" fill="#777" />
<rect x="161.5" y="50.8" width="13" height="0.9" fill="#777" />
<rect x="161.5" y="54.4" width="13" height="0.9" fill="#777" />
<rect x="165.7" y="47" width="0.9" height="11" fill="#777" />
<rect x="170.1" y="47" width="0.9" height="11" fill="#777" />
<path d="M194.7 33.7 H205.6 L212.2 40.3 V56.3 H194.7 Z M205.6 33.7 V40.3 H212.2" fill="#fbfbfb" stroke="#7a7a7a" stroke-width="1" />
<rect x="204.4" y="46.6" width="12" height="11.9" fill="#1e7145" />
<path d="M207.6 49.4 L213.2 55.8 M213.2 49.4 L207.6 55.8" fill="none" stroke="#fff" stroke-width="1.1" />
<rect x="232.5" y="33.7" width="22.9" height="22.2" fill="#fbfbfb" stroke="#444" stroke-width="1"/>
<rect x="233" y="34.2" width="22" height="3" fill="#9a9a9a" />
<path d="M246.6 45.5 V56.4 C246.6 59 257.1 59 257.1 56.4 V45.5" fill="#fbfbfb" stroke="#2f8ad8" stroke-width="1" />
<ellipse cx="251.85" cy="45.5" rx="5.25" ry="2" fill="#fbfbfb" stroke="#2f8ad8" stroke-width="1"/>
<path d="M268.7 33.7 H279 L286.2 40.9 V56 H268.7 Z M279 33.7 V40.9 H286.2" fill="#fbfbfb" stroke="#555" stroke-width="1" />
<path d="M280.6 45.5 V56.4 C280.6 59 291.3 59 291.3 56.4 V45.5" fill="#fbfbfb" stroke="#e07b39" stroke-width="1" />
<ellipse cx="285.95" cy="45.5" rx="5.35" ry="2" fill="#fbfbfb" stroke="#e07b39" stroke-width="1"/>
<rect x="300.6" y="33.7" width="22.6" height="22.4" fill="#fbfbfb" stroke="#555" stroke-width="1"/>
<rect x="301" y="34.1" width="22" height="2.8" fill="#9a9a9a" />
<rect x="300.6" y="43.3" width="22.6" height="0.9" fill="#555" />
<rect x="300.6" y="49.7" width="22.6" height="0.9" fill="#555" />
<rect x="308.3" y="36.5" width="0.9" height="19.6" fill="#555" />
<rect x="316.3" y="36.5" width="0.9" height="19.6" fill="#555" />
<rect x="298" y="36.2" width="13.5" height="7.5" fill="#f3f2f1" />
<path d="M304.6 31.3 V44 M298.4 37.4 H311.2" fill="none" stroke="#3a9d48" stroke-width="1.4" />
<path d="M349.02 52.77 A6.6 7.2 0 1 1 354.66 40.97" fill="none" stroke="#444" stroke-width="4.6" stroke-linecap="round"/>
<path d="M349.02 52.77 A6.6 7.2 0 1 1 354.66 40.97" fill="none" stroke="#fdfdfd" stroke-width="2.6" stroke-linecap="round"/>
<path d="M354.10 37.74 A6.2 7.0 0 1 1 354.10 49.86" fill="none" stroke="#444" stroke-width="4.6" stroke-linecap="round"/>
<path d="M354.10 37.74 A6.2 7.0 0 1 1 354.10 49.86" fill="none" stroke="#fdfdfd" stroke-width="2.6" stroke-linecap="round"/>
<circle cx="353.2" cy="44.8" r="3.5" fill="#fdfdfd" stroke="#444" stroke-width="1.1"/>
<path d="M392.8 33.9 H403 L409.6 40.5 V56.2 H392.8 Z" fill="#f9f9f9" stroke="#3d3d3d" stroke-width="1.15" />
<path d="M403 33.9 V40.5 H409.6" fill="none" stroke="#3d3d3d" stroke-width="1.1" />
<circle cx="408.8" cy="52" r="6.6" fill="#f3f2f1"/>
<circle cx="408.8" cy="52" r="5.5" fill="#ffffff" stroke="#2f8ad8" stroke-width="1.15"/>
<path d="M408.5 48.8 V52.5 H411.3" fill="none" stroke="#333" stroke-width="1" />
<rect x="452.5" y="33.5" width="22.9" height="22.7" fill="#fbfbfb" stroke="#555" stroke-width="1"/>
<rect x="453" y="34" width="22" height="2.8" fill="#9a9a9a" />
<rect x="452.5" y="43.8" width="22.9" height="0.9" fill="#555" />
<rect x="452.5" y="49.5" width="22.9" height="0.9" fill="#555" />
<rect x="459.6" y="36.5" width="0.9" height="19.6" fill="#555" />
<rect x="467.8" y="36.5" width="0.9" height="19.6" fill="#555" />
<path d="M459.40 58.10 L463.77 56.79 L477.37 42.94 A2.2 2.2 0 0 0 474.23 39.86 L460.63 53.70 Z" fill="#ffffff" stroke="#2f8ad8" stroke-width="1.1" />
<path d="M459.40 58.10 L461.30 57.45 L460.02 56.19 Z" fill="#2f8ad8" stroke="#2f8ad8" stroke-width="0.6" />
<path d="M475.62 44.73 L472.48 41.64" fill="none" stroke="#2f8ad8" stroke-width="0.9" />
<path d="M497.6 33.6 H508 L514.2 39.8 V56.3 H497.6 Z" fill="#f9f9f9" stroke="#3d3d3d" stroke-width="1.15" />
<path d="M508 33.6 V39.8 H514.2" fill="none" stroke="#3d3d3d" stroke-width="1.1" />
<circle cx="513.9" cy="51.6" r="7.2" fill="#f3f2f1"/>
<path d="M508.4 50.9 A5.6 5.6 0 0 1 519.1 49.4" fill="none" stroke="#3a9d48" stroke-width="1.25" />
<path d="M519.3 52.6 A5.6 5.6 0 0 1 508.6 54" fill="none" stroke="#3a9d48" stroke-width="1.25" />
<path d="M519.8 45.9 V49.9 H515.9" fill="none" stroke="#3a9d48" stroke-width="1.25" />
<path d="M508 57.3 V53.3 H511.9" fill="none" stroke="#3a9d48" stroke-width="1.25" />
<rect x="545.2" y="42.5" width="7" height="13.8" fill="#8bbfee" stroke="#2f8ad8" stroke-width="1"/>
<rect x="552.6" y="33.8" width="6.7" height="22.5" fill="#fbfbfb" stroke="#444" stroke-width="1"/>
<rect x="559.6" y="37.6" width="6" height="18.7" fill="#c6c6c6" stroke="#888" stroke-width="1"/>
<rect x="557" y="46" width="12.5" height="12.5" fill="#f3f2f1" opacity="0"/>
<path d="M563.2 46 V58.6 M557 52.3 H569.5" fill="none" stroke="#3a9d48" stroke-width="1.4" />
<rect x="577.9" y="35.2" width="24.7" height="19.6" fill="#fbfbfb" stroke="#666" stroke-width="1.2"/>
<circle cx="577.9" cy="35.2" r="1.3" fill="#2f8ad8"/>
<circle cx="602.6" cy="35.2" r="1.3" fill="#2f8ad8"/>
<circle cx="577.9" cy="54.8" r="1.3" fill="#2f8ad8"/>
<circle cx="602.6" cy="54.8" r="1.3" fill="#2f8ad8"/>
<path d="M585.2 51 L590 39 L594.8 51 M586.9 46.6 H593.1" fill="none" stroke="#2f8ad8" stroke-width="1.4" />
<rect x="618.3" y="42.8" width="6.5" height="13.4" fill="#fbfbfb" stroke="#555" stroke-width="1"/>
<rect x="624.8" y="33.8" width="7.7" height="22.4" fill="#fbfbfb" stroke="#555" stroke-width="1"/>
<rect x="632.5" y="37.9" width="6.5" height="18.3" fill="#fbfbfb" stroke="#555" stroke-width="1"/>
<path d="M625.20 58.10 L629.57 56.77 L642.87 43.14 A2.2 2.2 0 0 0 639.73 40.06 L626.42 53.70 Z" fill="#ffffff" stroke="#2f8ad8" stroke-width="1.1" />
<path d="M625.20 58.10 L627.10 57.44 L625.81 56.18 Z" fill="#2f8ad8" stroke="#2f8ad8" stroke-width="0.6" />
<path d="M641.13 44.93 L637.98 41.85" fill="none" stroke="#2f8ad8" stroke-width="0.9" />
<rect x="677.8" y="33.8" width="15.4" height="22.5" fill="#ffffff" stroke="#555" stroke-width="1.2"/>
<rect x="680" y="35.8" width="10.9" height="3.7" fill="#2f8ad8" />
<circle cx="681.1" cy="42.9" r="1.1" fill="#222"/>
<circle cx="681.1" cy="48" r="1.1" fill="#222"/>
<circle cx="681.1" cy="53.1" r="1.1" fill="#222"/>
<circle cx="685.3" cy="42.9" r="1.1" fill="#222"/>
<circle cx="685.3" cy="48" r="1.1" fill="#222"/>
<circle cx="685.3" cy="53.1" r="1.1" fill="#222"/>
<circle cx="689.7" cy="42.9" r="1.1" fill="#222"/>
<circle cx="689.7" cy="48" r="1.1" fill="#222"/>
<circle cx="689.7" cy="53.1" r="1.1" fill="#222"/>
<rect x="719.8" y="33.8" width="15.2" height="22.5" fill="#ffffff" stroke="#555" stroke-width="1.2"/>
<rect x="722" y="35.8" width="10.9" height="3.7" fill="#a8a8a8" />
<circle cx="722.8" cy="42.9" r="1.1" fill="#222"/>
<circle cx="722.8" cy="48" r="1.1" fill="#222"/>
<circle cx="722.8" cy="53.1" r="1.1" fill="#222"/>
<circle cx="727" cy="42.9" r="1.1" fill="#222"/>
<circle cx="727" cy="48" r="1.1" fill="#222"/>
<circle cx="727" cy="53.1" r="1.1" fill="#222"/>
<circle cx="731.3" cy="42.9" r="1.1" fill="#222"/>
<circle cx="731.3" cy="48" r="1.1" fill="#222"/>
<circle cx="731.3" cy="53.1" r="1.1" fill="#222"/>
<path d="M719.5 31.6 H724.8 L720.8 38.5 H724.5 L714.6 48.2 L717.6 40.6 H714.4 Z" fill="#f8c53a" stroke="#e8702a" stroke-width="0.9" />
<path d="M787 33.6 H777.6 V56.2 H794.6 V45" fill="none" stroke="#a9cdee" stroke-width="1" />
<g transform="rotate(-45 790 42)"><rect x="781" y="39.2" width="13" height="5.6" fill="none" stroke="#a9cdee" stroke-width="1"/><rect x="794" y="38.2" width="6" height="7.6" fill="none" stroke="#a9cdee" stroke-width="1"/><line x1="783" y1="42" x2="792" y2="42" stroke="#a9cdee" stroke-width="1"/></g>
<rect x="843.9" y="33.6" width="8.6" height="22.5" fill="#f3f2f1" rx="1.5" stroke="#444" stroke-width="1.1"/>
<rect x="839.4" y="40.7" width="8.4" height="15.4" fill="#f3f2f1" rx="1.5" stroke="#444" stroke-width="1.1"/>
<rect x="834.5" y="47.5" width="8.6" height="8.6" fill="#f3f2f1" rx="1.5" stroke="#444" stroke-width="1.1"/>
<rect x="849.5" y="44" width="4.6" height="14.5" fill="#f3f2f1" />
<path d="M851.7 58.3 V45.8 M846.3 50.9 L851.7 45.6 L857.1 50.9" fill="none" stroke="#2f8ad8" stroke-width="1.3" />
<path d="M12.7 117.3 V128.6 H24.4" fill="none" stroke="#3d3d3d" stroke-width="1.1" />
<rect x="14.6" y="120.8" width="2.2" height="7" fill="#a8a8a8" rx="1" stroke="#3d3d3d" stroke-width="0.9"/>
<rect x="17.9" y="123" width="2.2" height="4.8" fill="#a8a8a8" rx="1" stroke="#3d3d3d" stroke-width="0.9"/>
<rect x="21.2" y="118.4" width="2.2" height="9.4" fill="#a8a8a8" rx="1" stroke="#3d3d3d" stroke-width="0.9"/>
<rect x="11.9" y="150.2" width="12.8" height="12.9" fill="#f3f2f1" rx="1.3" stroke="#666" stroke-width="1"/>
<rect x="12.3" y="150.6" width="12" height="2.2" fill="#888" />
<rect x="12" y="155.9" width="12.6" height="0.8" fill="#777" />
<rect x="12" y="159.5" width="12.6" height="0.8" fill="#777" />
<rect x="15.9" y="152.5" width="0.8" height="10.5" fill="#777" />
<rect x="20.1" y="152.5" width="0.8" height="10.5" fill="#777" />
<rect x="10.5" y="188.4" width="6.5" height="5.6" fill="#f3f2f1" rx="1" stroke="#777" stroke-width="0.9"/>
<rect x="19.6" y="184" width="6.5" height="5.6" fill="#f3f2f1" rx="1" stroke="#777" stroke-width="0.9"/>
<rect x="19.6" y="192.6" width="6.5" height="5.6" fill="#f3f2f1" rx="1" stroke="#777" stroke-width="0.9"/>
<path d="M17 191.2 H18.3 V186.8 H19.6 M18.3 191.2 V195.4 H19.6" fill="none" stroke="#777" stroke-width="0.9" />
<rect x="10.8" y="191" width="6" height="0.7" fill="#999" />
<rect x="19.9" y="186.6" width="6" height="0.7" fill="#999" />
<rect x="19.9" y="195.2" width="6" height="0.7" fill="#999" />
<rect x="795.4" y="207.3" width="4.1" height="3.9" fill="#fff" stroke="#555" stroke-width="0.7"/>
<rect x="799.5" y="207.3" width="5.7" height="3.9" fill="#5ba6ea" stroke="#1f6fc5" stroke-width="0.7"/>
<rect x="795.4" y="214.3" width="6.1" height="3.9" fill="#fff" stroke="#555" stroke-width="0.7"/>
<rect x="801.5" y="214.3" width="7.1" height="3.9" fill="#c4c4c4" stroke="#555" stroke-width="0.7"/>
<path d="M795.4 205.4 V220.5 H810.3" fill="none" stroke="#555" stroke-width="1" />
<rect x="821.3" y="209.8" width="4.3" height="5.8" fill="#5ba6ea" stroke="#1f6fc5" stroke-width="0.7"/>
<rect x="821.3" y="215.6" width="4.3" height="4.9" fill="#fff" stroke="#555" stroke-width="0.7"/>
<rect x="828.6" y="207.1" width="3.8" height="7.7" fill="#c4c4c4" stroke="#555" stroke-width="0.7"/>
<rect x="828.6" y="214.8" width="3.8" height="5.7" fill="#fff" stroke="#555" stroke-width="0.7"/>
<path d="M819.2 205.4 V220.5 H834.1" fill="none" stroke="#555" stroke-width="1" />
<rect x="843" y="205.8" width="14.9" height="3.4" fill="#5ba6ea" stroke="#1f6fc5" stroke-width="0.7"/>
<rect x="843" y="210.9" width="6.8" height="4.7" fill="#c4c4c4" stroke="#555" stroke-width="0.7"/>
<rect x="843" y="216.6" width="10.2" height="2.6" fill="#fff" stroke="#555" stroke-width="0.7"/>
<path d="M843 205.4 V220.5 H858.2" fill="none" stroke="#555" stroke-width="1" />
<rect x="867.8" y="206.3" width="4.0" height="14.2" fill="#5ba6ea" stroke="#1f6fc5" stroke-width="0.7"/>
<rect x="871.8" y="211.8" width="3.7" height="8.7" fill="#c4c4c4" stroke="#555" stroke-width="0.7"/>
<rect x="878.5" y="209.7" width="2.9" height="10.8" fill="#fff" stroke="#555" stroke-width="0.7"/>
<path d="M867 205.4 V220.5 H881.9" fill="none" stroke="#555" stroke-width="1" />
<rect x="891" y="207.3" width="3.5" height="3.9" fill="#fff" stroke="#555" stroke-width="0.7"/>
<rect x="894.5" y="207.3" width="9.9" height="3.9" fill="#5ba6ea" stroke="#1f6fc5" stroke-width="0.7"/>
<rect x="891" y="214.3" width="9.5" height="3.7" fill="#fff" stroke="#555" stroke-width="0.7"/>
<rect x="900.5" y="214.3" width="3.9" height="3.7" fill="#c4c4c4" stroke="#555" stroke-width="0.7"/>
<path d="M891 205.4 V220.5 H905.7" fill="none" stroke="#555" stroke-width="1" />
<rect x="917.1" y="207.1" width="4.0" height="10.2" fill="#5ba6ea" stroke="#1f6fc5" stroke-width="0.7"/>
<rect x="917.1" y="217.3" width="4.0" height="3.2" fill="#fff" stroke="#555" stroke-width="0.7"/>
<rect x="924.8" y="207.1" width="3.4" height="4.3" fill="#c4c4c4" stroke="#555" stroke-width="0.7"/>
<rect x="924.8" y="211.4" width="3.4" height="9.1" fill="#fff" stroke="#555" stroke-width="0.7"/>
<path d="M914.9 205.4 V220.5 H929.5" fill="none" stroke="#555" stroke-width="1" />
<path d="M795.4 229.2 V244.3 H810.3" fill="none" stroke="#555" stroke-width="1" />
<path d="M796.5 235.5 L801 232 L805 236 L810 230.5" fill="none" stroke="#333" stroke-width="0.9" />
<path d="M796.5 240.5 L803.5 233.5 L809.5 239" fill="none" stroke="#1f6fc5" stroke-width="1" />
<path d="M829 231 L834 234 V244 H829 Z" fill="#c4c4c4" stroke="#888" stroke-width="0.7" />
<path d="M819 239 L824.5 230.5 L830.5 238.5 V244 H819 Z" fill="#fff" stroke="#333" stroke-width="0.8" />
<path d="M819 238.5 L823.5 242 L828 236 L834.2 244 H819 Z" fill="#5ba6ea" stroke="#1f6fc5" stroke-width="0.8" />
<path d="M819.2 243.5 V244.3 H834.1" fill="none" stroke="#555" stroke-width="1" />
<path d="M843.5 231.5 L848 235.5 L853 230.5 L858 233.5 V240 L853 236 L848 240.5 L843.5 235.5 Z" fill="#5ba6ea" stroke="#1f6fc5" stroke-width="0.9" />
<path d="M843 229.2 V244.3 H858.2" fill="none" stroke="#555" stroke-width="1" />
<rect x="867.8" y="231.3" width="4.2" height="12.7" fill="#5ba6ea" stroke="#1f6fc5" stroke-width="0.7"/>
<rect x="876.5" y="231.3" width="4.0" height="4.7" fill="#c4c4c4" stroke="#555" stroke-width="0.7"/>
<rect x="876.5" y="236" width="4.0" height="8" fill="#fff" stroke="#555" stroke-width="0.7"/>
<path d="M868 242 L872.5 237 L876.5 240.5 L881.5 234.5" fill="none" stroke="#222" stroke-width="0.9" />
<path d="M867 229.2 V244.3 H881.9" fill="none" stroke="#555" stroke-width="1" />
<rect x="891.5" y="236" width="3.5" height="8" fill="#5ba6ea" stroke="#1f6fc5" stroke-width="0.7"/>
<rect x="895" y="231" width="3.5" height="13" fill="#fff" stroke="#555" stroke-width="0.7"/>
<rect x="900" y="234" width="3" height="10" fill="#c4c4c4" stroke="#555" stroke-width="0.7"/>
<path d="M891 242 L896 236.5 L900 240 L905 234.5" fill="none" stroke="#222" stroke-width="0.9" />
<path d="M891 229.2 V244.3 H905.7" fill="none" stroke="#555" stroke-width="1" />
<path d="M915.5 230.5 L919 233 L926 233 L929.5 230.5 V236 L926 238.5 L919 238.5 L915.5 236 Z" fill="#c8c8c8" stroke="#999" stroke-width="0.6" />
<path d="M915.5 236 L919.5 240 L925.5 240 L929.5 236" fill="none" stroke="#1f6fc5" stroke-width="2.6" />
<path d="M915.5 236 L919.5 240 L925.5 240 L929.5 236" fill="none" stroke="#5ba6ea" stroke-width="1.2" />
<circle cx="917" cy="241.3" r="1.3" fill="#e8901a"/><circle cx="928" cy="241.3" r="1.3" fill="#e8901a"/><circle cx="922.5" cy="236.6" r="1.1" fill="#e8901a"/>
<path d="M914.9 229.2 V244.3 H929.5" fill="none" stroke="#555" stroke-width="1" />
<rect x="796.2" y="258.5" width="3.4" height="10.0" fill="#fff" stroke="#555" stroke-width="0.7"/>
<rect x="799.6" y="262" width="3.4" height="6.5" fill="#fff" stroke="#555" stroke-width="0.7"/>
<rect x="803.2" y="254.2" width="3.2" height="7.3" fill="#5ba6ea" stroke="#1f6fc5" stroke-width="0.7"/>
<rect x="806.6" y="254.2" width="3.2" height="14.3" fill="#fff" stroke="#555" stroke-width="0.7"/>
<path d="M795.2 253.4 V268.5 H810.3" fill="none" stroke="#555" stroke-width="1" />
<rect x="819.2" y="254" width="15" height="4.6" fill="#5ba6ea" rx="1" stroke="#1f6fc5" stroke-width="0.8"/>
<rect x="821.4" y="258.6" width="10.6" height="4.2" fill="#5ba6ea" rx="0.8" stroke="#1f6fc5" stroke-width="0.8"/>
<rect x="823.2" y="262.8" width="6.2" height="5" fill="#5ba6ea" rx="0.8" stroke="#1f6fc5" stroke-width="0.8"/>
<path d="M843 253.4 V268.3 H857.9" fill="none" stroke="#555" stroke-width="1" />
<rect x="854.3" y="254.70000000000002" width="2.2" height="2.2" fill="#222" />
<rect x="845.3" y="263.79999999999995" width="2.2" height="2.2" fill="#222" />
<rect x="845.6" y="256.7" width="2.2" height="2.2" fill="#5ba6ea" />
<rect x="849.6" y="259.5" width="2.2" height="2.2" fill="#5ba6ea" />
<rect x="854.3" y="262.79999999999995" width="2.2" height="2.2" fill="#5ba6ea" />
<circle cx="874.6" cy="260.9" r="7.4" fill="#fff" stroke="#444" stroke-width="0.9"/>
<path d="M874.6 260.9 V253.5 A7.4 7.4 0 0 1 880.4 265.5 Z" fill="#5ba6ea" stroke="#1f6fc5" stroke-width="0.9" />
<circle cx="898" cy="260.9" r="5.5" fill="none" stroke="#5ba6ea" stroke-width="4"/>
<path d="M898 253.4 A7.5 7.5 0 1 1 890.6 259.6" fill="none" stroke="#1f6fc5" stroke-width="0.9" />
<path d="M898 257.4 A3.5 3.5 0 1 1 894.6 260.2" fill="none" stroke="#1f6fc5" stroke-width="0.9" />
<path d="M890.6 259.6 A7.5 7.5 0 0 1 898 253.4 V257.4 A3.5 3.5 0 0 0 894.6 260.2 Z" fill="#fff" stroke="#444" stroke-width="0.8" />
<rect x="915.3" y="253.8" width="14.2" height="14.1" fill="#fff" stroke="#444" stroke-width="0.9"/>
<rect x="915.3" y="253.8" width="6.9" height="7" fill="#5ba6ea" stroke="#1f6fc5" stroke-width="0.7"/>
<rect x="915.3" y="260.8" width="6.9" height="7.1" fill="#5ba6ea" stroke="#1f6fc5" stroke-width="0.7"/>
<path d="M922.2 257.5 H929.5 M925.2 257.5 V267.9 M925.2 263 H929.5" fill="none" stroke="#444" stroke-width="0.8" />
<circle cx="802.6" cy="284" r="5.3" fill="#fff" stroke="#666" stroke-width="0.8"/>
<path d="M800 280.5 L803 280 L802.5 283 L800.5 284 Z M803.5 284.5 L806 284 L805.5 287 L803.5 287.5 Z M804.5 280.5 L806.5 281.5 L805.5 282.5 Z" fill="#1e9e3e" stroke="#1e9e3e" stroke-width="0.4" />
<path d="M798.5 278.5 A7 7 0 0 0 804 291 M802.6 289.5 V292 M798 292.2 H807.5" fill="none" stroke="#555" stroke-width="1" />
<path d="M819.5 279 L823.5 278.5 L826.5 280.5 L830 279 L834 278.5 V286 L831 290.5 L827.5 292.5 L823 290 L820 288 Z" fill="#c8c8c8" stroke="#444" stroke-width="0.9" />
<path d="M819.5 279 L823.5 278.5 L825.5 283.5 L819.8 284.5 Z M827 285.5 L834 284.5 V286 L831 290.5 L827.5 292.5 L826.5 289 Z" fill="#5ba6ea" stroke="#1f6fc5" stroke-width="0.7" />
<path d="M843.5 279 L847.5 278.5 L850.5 280.5 L854 279 L858 278.5 V286 L855 290.5 L851.5 292.5 L847 290 L844 288 Z" fill="#fff" stroke="#444" stroke-width="0.9" />
<path d="M843.5 279 L847.5 278.5 L849.5 283.5 L843.8 284.5 Z M851 285.5 L858 284.5 V286 L855 290.5 L851.5 292.5 L850.5 289 Z" fill="#fff" stroke="#1f6fc5" stroke-width="0.8" />
<path d="M876.8 277 L881 293 L876.3 286.6 L868.1 290.6 Z" fill="#2b88d8" stroke="#2b88d8" stroke-width="0.4" />
<path d="M876.8 277 L876.3 286.6 L868.1 290.6 Z" fill="#4aa0e8" stroke="#4aa0e8" stroke-width="0.3" />
<path d="M890.8 289.3 A7.3 7.3 0 0 1 905.3 289.3" fill="none" stroke="#444" stroke-width="0.8" />
<path d="M894.5 283.2 A7.3 7.3 0 0 1 904.6 289.3" fill="none" stroke="#5ba6ea" stroke-width="3.2" />
<path d="M893 289.3 A5 5 0 0 1 903 289.3" fill="none" stroke="#444" stroke-width="0.6" />
<path d="M898 289.5 L901.8 285.4" fill="none" stroke="#222" stroke-width="1.4" />
<rect x="915.3" y="279.3" width="14.2" height="11" fill="#fff" stroke="#444" stroke-width="1"/>
<rect x="916.8" y="288" width="11.2" height="0.8" fill="#888" />
<text x="922.4" y="287" font-size="7.6" fill="#5ba6ea" text-anchor="middle" textLength="10.6" lengthAdjust="spacingAndGlyphs">123</text>
<rect x="795.5" y="300.8" width="15" height="14" fill="#fff" stroke="#444" stroke-width="1"/>
<rect x="797.5" y="304.3" width="11" height="1.3" fill="#2b88d8" />
<rect x="797.5" y="308.3" width="6" height="1" fill="#888" />
<rect x="797.5" y="311.3" width="9" height="1" fill="#aaa" />
<rect x="819.0" y="300.8" width="15" height="14" fill="#fff" stroke="#444" stroke-width="1"/>
<path d="M821.5 309.3 L823.5 305.3 L825.5 309.3 Z" fill="none" stroke="#2ea043" stroke-width="1" />
<path d="M827.5 305.3 L829.5 309.3 L831.5 305.3 Z" fill="#d13438" stroke="#d13438" stroke-width="0.8" />
<rect x="843.0" y="300.8" width="15" height="14" fill="#fff" stroke="#444" stroke-width="1"/>
<rect x="843.0" y="300.8" width="15" height="2.8" fill="#888" />
<rect x="845.0" y="306.3" width="3" height="3" fill="#fff" stroke="#777" stroke-width="0.7"/>
<rect x="849.5" y="309.8" width="8" height="1" fill="#444" />
<rect x="866.8" y="300.8" width="15" height="14" fill="#fff" stroke="#444" stroke-width="1"/>
<rect x="866.8" y="300.8" width="15" height="2.8" fill="#888" />
<path d="M871.8 303.3 V314.8 M876.8 303.3 V314.8 M866.8 307.3 H881.8" fill="none" stroke="#555" stroke-width="0.8" />
<rect x="890.5" y="300.8" width="15" height="14" fill="#fff" stroke="#444" stroke-width="1"/>
<rect x="890.5" y="300.8" width="15" height="2.8" fill="#888" />
<rect x="900.5" y="303.6" width="5" height="4" fill="#2b88d8" />
<path d="M895.5 303.3 V314.8 M900.5 303.3 V314.8 M890.5 307.3 H905.5" fill="none" stroke="#555" stroke-width="0.8" />
<text x="917" y="313.3" font-size="13" font-weight="bold" fill="#2b88d8">R</text>
<path d="M915 325 H925 L929 329 V339.5 H915 Z" fill="#fff" stroke="#444" stroke-width="1" />
<rect x="920" y="334" width="1.5" height="4" fill="#333" />
<rect x="923" y="332" width="1.5" height="6" fill="#333" />
<rect x="926" y="330" width="1.5" height="8" fill="#333" />
<rect x="819.5" y="325" width="14" height="14" fill="#fff" stroke="#444" stroke-width="1"/>
<rect x="891" y="325" width="14" height="14" fill="#fff" stroke="#444" stroke-width="1"/>
<path d="M798 339 C801 338 803 336 804 333" fill="none" stroke="#2b88d8" stroke-width="2" />
<path d="M852.5 339 L855.5 335" fill="none" stroke="#2b88d8" stroke-width="2" />
<path d="M870.3 339 L873.3 335" fill="none" stroke="#1f5fa8" stroke-width="2" />
<rect x="796" y="350.2" width="14" height="13" fill="#fff" stroke="#2b88d8" stroke-width="1.4"/>
<path d="M798 362.2 V357.2 H802 V353.2 H806 V350.2" fill="none" stroke="#2b88d8" stroke-width="1.2" />
<circle cx="798" cy="350.7" r="2.4" fill="#e8701a"/><circle cx="809" cy="361.2" r="2.2" fill="#e8701a"/>
<path d="M826.5 348.7 L834.0 356.2 L826.5 363.7 L819.0 356.2 Z" fill="#fbf2fb" stroke="#a33ea1" stroke-width="1.2" />
<path d="M822.8 352.5 L830.2 359.9 M830.2 352.5 L822.8 359.9" fill="none" stroke="#a33ea1" stroke-width="1" />
<rect x="840.2" y="346.1" width="20.2" height="20.8" fill="#e9e8e6" stroke="#c8c6c4" stroke-width="0.8"/>
<path d="M843.5 351.2 H851.5 L857.5 356.2 L851.5 361.2 H843.5 L849.5 356.2 Z" fill="#fff" stroke="#2b88d8" stroke-width="1.1" />
<path d="M847.5 351.2 L853.5 356.2" fill="none" stroke="#2b88d8" stroke-width="1" />
<rect x="867.3" y="349.2" width="6" height="6" fill="#3a6ea5" />
<rect x="875.3" y="349.2" width="6" height="6" fill="#e07050" />
<rect x="867.3" y="357.2" width="6" height="6" fill="#8ab0d8" />
<rect x="875.3" y="357.2" width="6" height="6" fill="#70a878" />
<circle cx="898" cy="356.2" r="6" fill="none" stroke="#2ea043" stroke-width="3.6"/>
<path d="M898 350.2 A6 6 0 0 0 893 352.9" fill="none" stroke="#d0d0d0" stroke-width="3.6" />
<path d="M917 350.2 H922 V363.2 H917 Z" fill="#70a878" stroke="#70a878" stroke-width="0.5" />
<path d="M922 349.2 H928 V354.2 H930 V358.2 H928 V363.2 H922 Z" fill="#8ab0d8" stroke="#8ab0d8" stroke-width="0.5" />
<circle cx="803" cy="379" r="7" fill="#c8dcf0" stroke="#5a8ec8" stroke-width="1"/>
<path d="M796 379 H810 M797 375.5 H809 M797 382.5 H809 M803 372 V386 M800 372.8 C798 377 798 381 800 385.2 M806 372.8 C808 377 808 381 806 385.2" fill="none" stroke="#5a8ec8" stroke-width="0.8" />
<circle cx="807" cy="374" r="1" fill="#e8701a"/><circle cx="809" cy="379" r="1" fill="#e8701a"/>
<rect x="819.0" y="374.5" width="15" height="9" fill="#f2c811" rx="4.5"/>
<circle cx="830.0" cy="379" r="3" fill="#fff"/>
<rect x="845.5" y="371.5" width="1.4" height="16" fill="#3a5a8a" />
<path d="M846.9 372 H856.5 V379 H846.9 Z" fill="#1f3864" stroke="#1f3864" stroke-width="0.5" />
<circle cx="869.3" cy="379.6" r="0.9" fill="#333"/>
<circle cx="874.3" cy="379.6" r="0.9" fill="#333"/>
<circle cx="879.3" cy="379.6" r="0.9" fill="#333"/>
<defs><filter id="tsh" x="-10%" y="-30%" width="120%" height="170%"><feDropShadow dx="0" dy="1" stdDeviation="1.6" flood-color="#000" flood-opacity="0.22"/></filter></defs>
<path d="M777.6 311 H923.4 V337.2 H853.8 L849.8 341.6 L845.8 337.2 H777.6 Z" fill="#ffffff" filter="url(#tsh)"/>
<text x="784.2" y="328" font-size="11.2" fill="#323130" textLength="132.3" lengthAdjust="spacingAndGlyphs" >Power Automate for Power BI</text>
</svg>
</body></html>
